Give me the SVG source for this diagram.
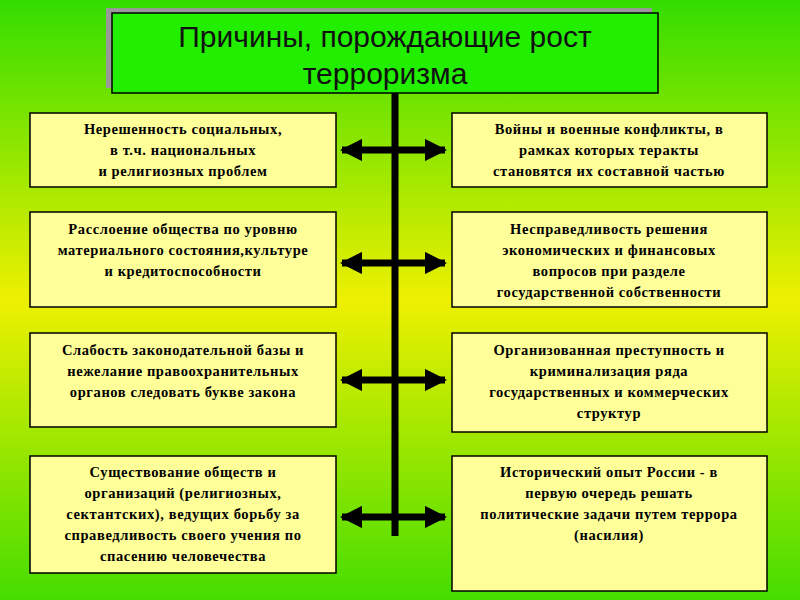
<svg xmlns="http://www.w3.org/2000/svg" width="800" height="600" viewBox="0 0 800 600">
<defs>
<linearGradient id="bg" x1="0" y1="0" x2="0" y2="1">
<stop offset="0" stop-color="#33dd00"/>
<stop offset="0.5" stop-color="#eef000"/>
<stop offset="1" stop-color="#44dd00"/>
</linearGradient>
<marker id="ah" viewBox="0 0 10 10" refX="9" refY="5" markerWidth="3.2" markerHeight="3.2" orient="auto-start-reverse" markerUnits="strokeWidth">
<path d="M0,0 L10,5 L0,10 z" fill="#000"/>
</marker>
<style>
.box{fill:#ffff99;stroke:#000;stroke-width:1.5}
.t{font-family:"Liberation Serif",serif;font-weight:bold;font-size:14.5px;letter-spacing:0.6px;text-anchor:middle;fill:#000}
.c{stroke:#000;stroke-width:7;fill:none}
</style>
</defs>
<rect width="800" height="600" fill="url(#bg)"/>
<g id="title">
<rect x="106" y="8" width="546" height="80" fill="#999"/>
<rect x="112" y="13" width="546" height="80" fill="#22ee00" stroke="#000" stroke-width="1.5"/>
<text x="385" y="47" style="font-family:'Liberation Sans',sans-serif;font-size:30px;text-anchor:middle;fill:#111">Причины, порождающие рост</text>
<text x="385" y="84" style="font-family:'Liberation Sans',sans-serif;font-size:30px;text-anchor:middle;fill:#111">терроризма</text>
</g>
<g id="connectors">
<line x1="395" y1="93" x2="395" y2="536" stroke="#000" stroke-width="7"/>
<line class="c" x1="342" y1="150" x2="445" y2="150" marker-start="url(#ah)" marker-end="url(#ah)"/>
<line class="c" x1="342" y1="263" x2="445" y2="263" marker-start="url(#ah)" marker-end="url(#ah)"/>
<line class="c" x1="342" y1="380" x2="445" y2="380" marker-start="url(#ah)" marker-end="url(#ah)"/>
<line class="c" x1="342" y1="517" x2="445" y2="517" marker-start="url(#ah)" marker-end="url(#ah)"/>
</g>
<g id="l1"><rect class="box" x="30" y="113" width="306" height="74"/>
<text class="t" x="183" y="134">Нерешенность  социальных,</text>
<text class="t" x="183" y="155">в т.ч. национальных</text>
<text class="t" x="183" y="176">и религиозных проблем</text></g>
<g id="r1"><rect class="box" x="452" y="113" width="315" height="74"/>
<text class="t" x="609" y="134">Войны и военные конфликты, в</text>
<text class="t" x="609" y="155">рамках которых теракты</text>
<text class="t" x="609" y="176">становятся  их составной частью</text></g>
<g id="l2"><rect class="box" x="30" y="212" width="306" height="95"/>
<text class="t" x="183" y="234">Расслоение общества по уровню</text>
<text class="t" x="183" y="255">материального состояния,культуре</text>
<text class="t" x="183" y="276">и кредитоспособности</text></g>
<g id="r2"><rect class="box" x="452" y="212" width="315" height="95"/>
<text class="t" x="609" y="234">Несправедливость решения</text>
<text class="t" x="609" y="255">экономических и финансовых</text>
<text class="t" x="609" y="276">вопросов при разделе</text>
<text class="t" x="609" y="297">государственной собственности</text></g>
<g id="l3"><rect class="box" x="30" y="333" width="306" height="94"/>
<text class="t" x="183" y="355">Слабость законодательной базы и</text>
<text class="t" x="183" y="376">нежелание правоохранительных</text>
<text class="t" x="183" y="397">органов следовать букве закона</text></g>
<g id="r3"><rect class="box" x="452" y="333" width="315" height="99"/>
<text class="t" x="609" y="355">Организованная преступность и</text>
<text class="t" x="609" y="376">криминализация ряда</text>
<text class="t" x="609" y="397">государственных и коммерческих</text>
<text class="t" x="609" y="418">структур</text></g>
<g id="l4"><rect class="box" x="30" y="456" width="306" height="117"/>
<text class="t" x="183" y="477">Существование обществ и</text>
<text class="t" x="183" y="498">организаций (религиозных,</text>
<text class="t" x="183" y="519">сектантских),  ведущих борьбу за</text>
<text class="t" x="183" y="540">справедливость своего учения по</text>
<text class="t" x="183" y="561">спасению человечества</text></g>
<g id="r4"><rect class="box" x="452" y="456" width="315" height="135"/>
<text class="t" x="609" y="477">Исторический  опыт России - в</text>
<text class="t" x="609" y="498">первую очередь решать</text>
<text class="t" x="609" y="519">политические задачи путем террора</text>
<text class="t" x="609" y="540">(насилия)</text></g>
</svg>
